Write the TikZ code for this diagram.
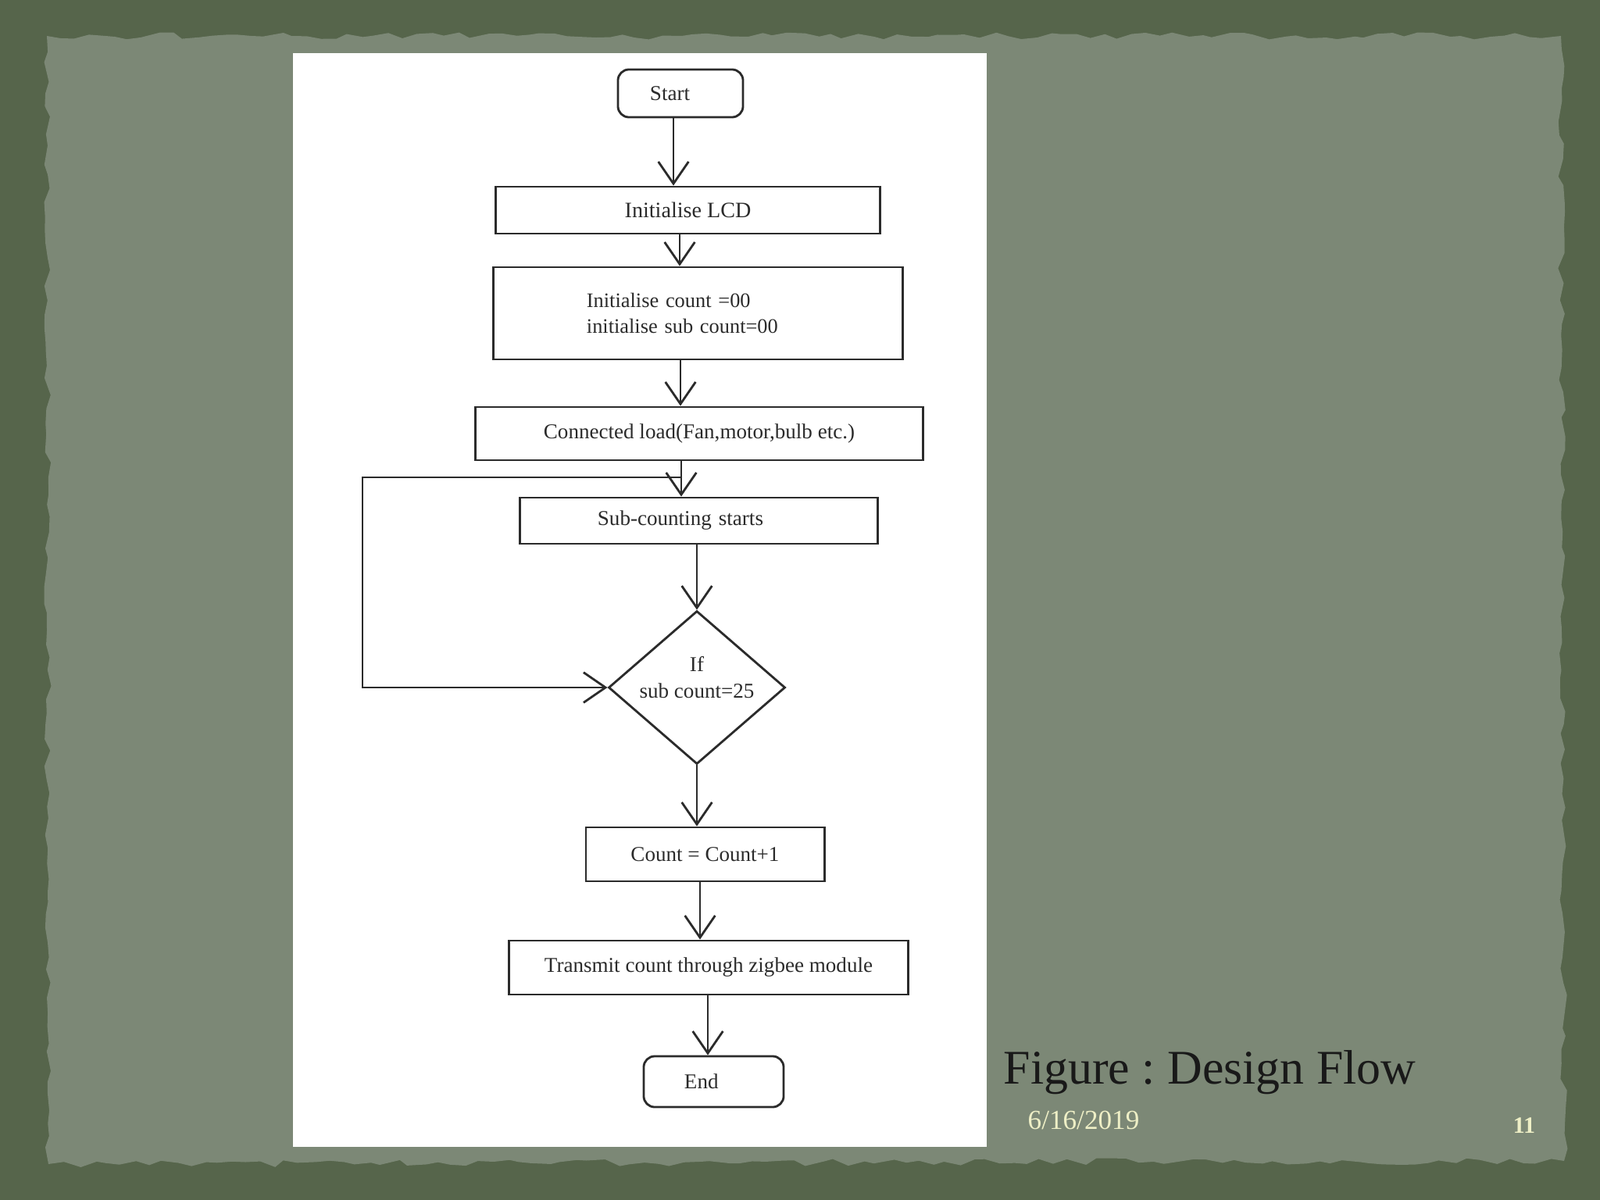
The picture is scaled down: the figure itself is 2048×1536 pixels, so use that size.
\documentclass[tikz,border=0pt]{standalone}
\usepackage{fontspec}
\setmainfont{Liberation Serif}
\usetikzlibrary{arrows.meta,shapes.geometric,decorations.pathmorphing}
\definecolor{outerg}{HTML}{56654B}
\definecolor{paperg}{HTML}{7C8876}
\definecolor{ink}{HTML}{2B2B2B}
\definecolor{datec}{HTML}{EEEFC6}
\begin{document}
\frenchspacing
\begin{tikzpicture}[x=0.01cm,y=-0.01cm,
  box/.style={draw=ink, line width=0.8pt, fill=white, inner sep=0pt, text=ink,
              font=\fontsize{7.7}{9.7}\selectfont},
  term/.style={box, rounded corners=0.14cm},
  arr/.style={draw=ink, line width=0.8pt, -{Straight Barb[length=8pt,width=11pt]}},
  ]
\useasboundingbox (0,0) rectangle (2048,1536);
\fill[outerg] (0,0) rectangle (2048,1536);
\fill[paperg, decorate, decoration={random steps,segment length=5pt,amplitude=1.3pt}]
  (60,46) -- (1998,46) -- (2002,1486) -- (62,1490) -- cycle;
\fill[white] (375,68) rectangle (1263,1468);

\node[term, minimum width=1.6cm, minimum height=0.61cm, text width=0.78cm, inner xsep=0.41cm, align=left] (start) at (871,119.5) {Start};
\node[box, minimum width=4.91cm, minimum height=0.6cm, font=\fontsize{8}{10}\selectfont] (lcd) at (880.5,269) {Initialise LCD};
\node[box, minimum width=5.23cm, minimum height=1.18cm, text width=2.85cm, inner xsep=1.19cm, align=left, font=\fontsize{7.5}{9.6}\selectfont] (cnt) at (893.5,401) {Initialise count =00\\initialise sub count=00};
\node[box, minimum width=5.72cm, minimum height=0.68cm] (conn) at (895,555) {Connected load(Fan,motor,bulb etc.)};
\node[box, minimum width=4.57cm, minimum height=0.59cm, text width=2.59cm, inner xsep=0.99cm, align=left] (sub) at (894.5,666.5) {Sub-counting starts};
\node[box, diamond, aspect=1.153, minimum width=2.26cm, minimum height=1.96cm,
      label={[name=diatext, align=center, text=ink, font=\fontsize{7.7}{9.7}\selectfont, yshift=0.13cm]center:{If\\sub count=25}}] (dia) at (892,880) {};
\node[box, minimum width=3.05cm, minimum height=0.69cm] (count) at (902.5,1093.5) {Count = Count+1};
\node[box, minimum width=5.10cm, minimum height=0.69cm] (trans) at (907,1238.5) {Transmit count through zigbee module};
\node[term, minimum width=1.79cm, minimum height=0.65cm, text width=0.75cm, inner xsep=0.52cm, align=left] (stop) at (913.5,1384.5) {End};

\draw[arr] (862,0 |- start.south) -- (862,0 |- lcd.north);
\draw[arr] (870,0 |- lcd.south) -- (870,0 |- cnt.north);
\draw[arr] (871,0 |- cnt.south) -- (871,0 |- conn.north);
\draw[arr] (872,0 |- conn.south) -- (872,0 |- sub.north);
\coordinate (jn) at (872,611);
\draw[arr] (jn) -- (464,611) -- (464,0 |- dia.west) -- (dia.west);
\draw[arr] (dia.north |- sub.south) -- (dia.north);
\draw[arr] (dia.south) -- (dia.south |- count.north);
\draw[arr] (896,0 |- count.south) -- (896,0 |- trans.north);
\draw[arr] (906,0 |- trans.south) -- (906,0 |- stop.north);

\node[anchor=base west, inner sep=0pt, font=\fontsize{17.6}{21}\selectfont, text=black!90] (cap) at (1284,1387) {Figure : Design Flow};
\node[font=\fontsize{10}{12}\selectfont, text=datec] (date) at (1387,1434) {6/16/2019};
\node[font=\bfseries\fontsize{8.5}{10}\selectfont, text=datec] (pg) at (1951,1441) {11};
\end{tikzpicture}
\end{document}
